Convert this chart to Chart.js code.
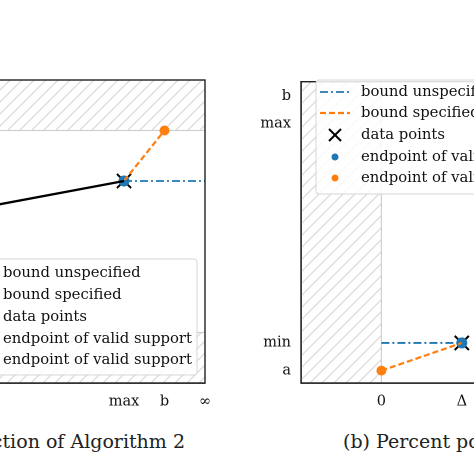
<!DOCTYPE html>
<html>
<head>
<meta charset="utf-8">
<script src="https://cdn.jsdelivr.net/npm/chart.js@4.4.0/dist/chart.umd.min.js"></script>
<style>
  body { margin: 0; width: 474px; height: 474px; overflow: hidden; background: #fff; position: relative; font-family: "DejaVu Serif", serif; }
  canvas { position: absolute; }
  .cap { position: absolute; top: 430px; font-size: 19px; white-space: nowrap; color: #222; }
</style>
</head>
<body>
<canvas id="left" style="left:-50px; top:68px; width:270px; height:355px;"></canvas>
<canvas id="right" style="left:241px; top:68px; width:273px; height:355px;"></canvas>
<div class="cap" style="right:289px;">(a) Extrapolation function of Algorithm 2</div>
<div class="cap" style="left:343px;">(b) Percent point function</div>
<script>
// ---- data: left panel
const leftTickVals = [2, 3, 4];
const leftTickLabels = ['max', 'b', '\u221e'];
const leftBlack = [{x: -2, y: 3.4}, {x: 2, y: 4}];
const leftUnspec = [{x: 2, y: 4}, {x: 4, y: 4}];
const leftSpec = [{x: 2, y: 4}, {x: 3, y: 5}];
const leftPoints = [{x: 2, y: 4}];
const leftBlueEnd = [{x: 2, y: 4}];
const leftOrangeEnd = [{x: 3, y: 5}];
const leftBands = [[5, 6], [0, 1]]; // y ranges hatched

// ---- data: right panel
const rightXTickVals = [0, 1];
const rightXTickLabels = ['0', '\u0394'];
const rightYTickVals = [0.41, 1.33, 3.43, 8.6, 9.52];
const rightYTickLabels = ['a', 'min', ' ', 'max', 'b'];
const rightUnspec = [{x: 0, y: 1.33}, {x: 1, y: 1.33}];
const rightSpec = [{x: 0, y: 0.41}, {x: 1, y: 1.33}];
const rightPoints = [{x: 1, y: 1.33}];
const rightBlueEnd = [{x: 1, y: 1.33}];
const rightOrangeEnd = [{x: 0, y: 0.41}];
const rightBands = [[-1, 0]]; // x ranges hatched

const legendLabels = ['bound unspecified', 'bound specified', 'data points',
  'endpoint of valid support', 'endpoint of valid support'];

const BLUE = '#1f77b4', ORANGE = '#ff7f0e';
const FONT = '"DejaVu Serif", serif';

function hatchPattern(ctx) {
  const c = document.createElement('canvas');
  c.width = 12; c.height = 12;
  const g = c.getContext('2d');
  g.strokeStyle = '#bdbdbd'; g.lineWidth = 1;
  g.beginPath();
  g.moveTo(0, 12); g.lineTo(12, 0);
  g.moveTo(-1, 1); g.lineTo(1, -1);
  g.moveTo(11, 13); g.lineTo(13, 11);
  g.stroke();
  return ctx.createPattern(c, 'repeat');
}

function datasets(black, unspec, spec, pts, bEnd, oEnd) {
  const ds = [];
  if (black) ds.push({data: black, borderColor: '#000', borderWidth: 2.4, pointRadius: 0, showLine: true});
  ds.push({data: unspec, borderColor: BLUE, borderWidth: 1.8, borderDash: [8, 3, 2, 3], pointRadius: 0, showLine: true});
  ds.push({data: spec, borderColor: ORANGE, borderWidth: 2.2, borderDash: [6, 3], pointRadius: 0, showLine: true});
  ds.push({data: bEnd, backgroundColor: BLUE, borderColor: BLUE, pointRadius: 5, showLine: false});
  ds.push({data: oEnd, backgroundColor: ORANGE, borderColor: ORANGE, pointRadius: 4.5, showLine: false});
  ds.push({data: pts, pointStyle: 'cross', rotation: 45, pointRadius: 10, borderColor: '#000', borderWidth: 2, showLine: false});
  return ds;
}

function bandPlugin(bands, axis) {
  return {
    id: 'bands',
    beforeDatasetsDraw(chart) {
      const {ctx, chartArea: a, scales} = chart;
      ctx.save();
      ctx.beginPath(); ctx.rect(a.left, a.top, a.right - a.left, a.bottom - a.top); ctx.clip();
      const pat = hatchPattern(ctx);
      bands.forEach(([lo, hi]) => {
        ctx.fillStyle = pat;
        ctx.strokeStyle = '#d0d0d0'; ctx.lineWidth = 1.2;
        if (axis === 'y') {
          const y1 = scales.y.getPixelForValue(hi), y2 = scales.y.getPixelForValue(lo);
          ctx.fillRect(a.left, y1, a.right - a.left, y2 - y1);
          ctx.strokeRect(a.left, y1, a.right - a.left, y2 - y1);
        } else {
          const x1 = scales.x.getPixelForValue(lo), x2 = scales.x.getPixelForValue(hi);
          ctx.fillRect(x1, a.top, x2 - x1, a.bottom - a.top);
          ctx.strokeRect(x1, a.top, x2 - x1, a.bottom - a.top);
        }
      });
      ctx.restore();
    },
    afterDraw(chart) {
      const {ctx, chartArea: a} = chart;
      ctx.save();
      ctx.strokeStyle = '#222'; ctx.lineWidth = 1.4;
      ctx.strokeRect(a.left, a.top, a.right - a.left, a.bottom - a.top);
      ctx.restore();
    }
  };
}

function legendPlugin(bx, by, bw, bh, tx, rowY, symbols) {
  return {
    id: 'boxLegend',
    afterDraw(chart) {
      const ctx = chart.ctx;
      ctx.save();
      ctx.fillStyle = 'rgba(255,255,255,0.85)';
      ctx.strokeStyle = '#d6d6d6'; ctx.lineWidth = 1;
      ctx.beginPath(); ctx.roundRect(bx, by, bw, bh, 3); ctx.fill(); ctx.stroke();
      ctx.fillStyle = '#111'; ctx.font = '14.8px ' + FONT; ctx.textBaseline = 'middle';
      legendLabels.forEach((t, i) => ctx.fillText(t, tx, rowY[i]));
      if (symbols) {
        const sx = tx - 41;
        ctx.lineWidth = 1.8;
        ctx.strokeStyle = BLUE; ctx.setLineDash([8, 3, 2, 3]);
        ctx.beginPath(); ctx.moveTo(sx, rowY[0]); ctx.lineTo(sx + 30, rowY[0]); ctx.stroke();
        ctx.strokeStyle = ORANGE; ctx.lineWidth = 2.2; ctx.setLineDash([6, 3]);
        ctx.beginPath(); ctx.moveTo(sx, rowY[1]); ctx.lineTo(sx + 30, rowY[1]); ctx.stroke();
        ctx.setLineDash([]);
        ctx.strokeStyle = '#000'; ctx.lineWidth = 2;
        const cx = sx + 15;
        ctx.beginPath();
        ctx.moveTo(cx - 6, rowY[2] - 6); ctx.lineTo(cx + 6, rowY[2] + 6);
        ctx.moveTo(cx + 6, rowY[2] - 6); ctx.lineTo(cx - 6, rowY[2] + 6);
        ctx.stroke();
        ctx.fillStyle = BLUE; ctx.beginPath(); ctx.arc(cx, rowY[3], 3.5, 0, 7); ctx.fill();
        ctx.fillStyle = ORANGE; ctx.beginPath(); ctx.arc(cx, rowY[4], 3.5, 0, 7); ctx.fill();
      }
      ctx.restore();
    }
  };
}

function tickAxis(vals, labels, opts) {
  return Object.assign({
    type: 'linear',
    grid: {display: false, drawTicks: true, tickLength: 5, tickColor: '#222', tickWidth: 1.2},
    border: {color: '#222', width: 1.4},
    afterBuildTicks(scale) { scale.ticks = vals.map(v => ({value: v})); },
    ticks: {
      color: '#111', font: {family: FONT, size: 14.5}, autoSkip: false, maxRotation: 0, padding: 5,
      callback: (v, i) => labels[i]
    }
  }, opts);
}

Chart.defaults.animation = false;

new Chart(document.getElementById('left'), {
  type: 'scatter',
  data: {datasets: datasets(leftBlack, leftUnspec, leftSpec, leftPoints, leftBlueEnd, leftOrangeEnd)},
  options: {
    responsive: false, devicePixelRatio: 2,
    layout: {padding: {left: 0, right: 15, top: 0, bottom: 0}},
    plugins: {legend: {display: false}, tooltip: {enabled: false}},
    scales: {
      x: tickAxis(leftTickVals, leftTickLabels, {min: -2, max: 4,
        afterFit(s) { s.height = 40; }}),
      y: {type: 'linear', min: 0, max: 6, display: false}
    }
  },
  plugins: [bandPlugin(leftBands, 'y'),
    legendPlugin(10, 191, 237, 116, 53, [205, 227, 249, 271, 292], false)]
});

new Chart(document.getElementById('right'), {
  type: 'scatter',
  data: {datasets: datasets(null, rightUnspec, rightSpec, rightPoints, rightBlueEnd, rightOrangeEnd)},
  options: {
    responsive: false, devicePixelRatio: 2,
    layout: {padding: 0},
    plugins: {legend: {display: false}, tooltip: {enabled: false}},
    scales: {
      x: tickAxis(rightXTickVals, rightXTickLabels, {min: -1, max: 1.5,
        afterFit(s) { s.height = 40; }}),
      y: tickAxis(rightYTickVals, rightYTickLabels, {min: 0, max: 10,
        afterFit(s) { s.width = 60; }})
    }
  },
  plugins: [bandPlugin(rightBands, 'x'),
    legendPlugin(75, 12, 240, 114, 120, [24, 45, 67, 89, 110], true)]
});
</script>
</body>
</html>
